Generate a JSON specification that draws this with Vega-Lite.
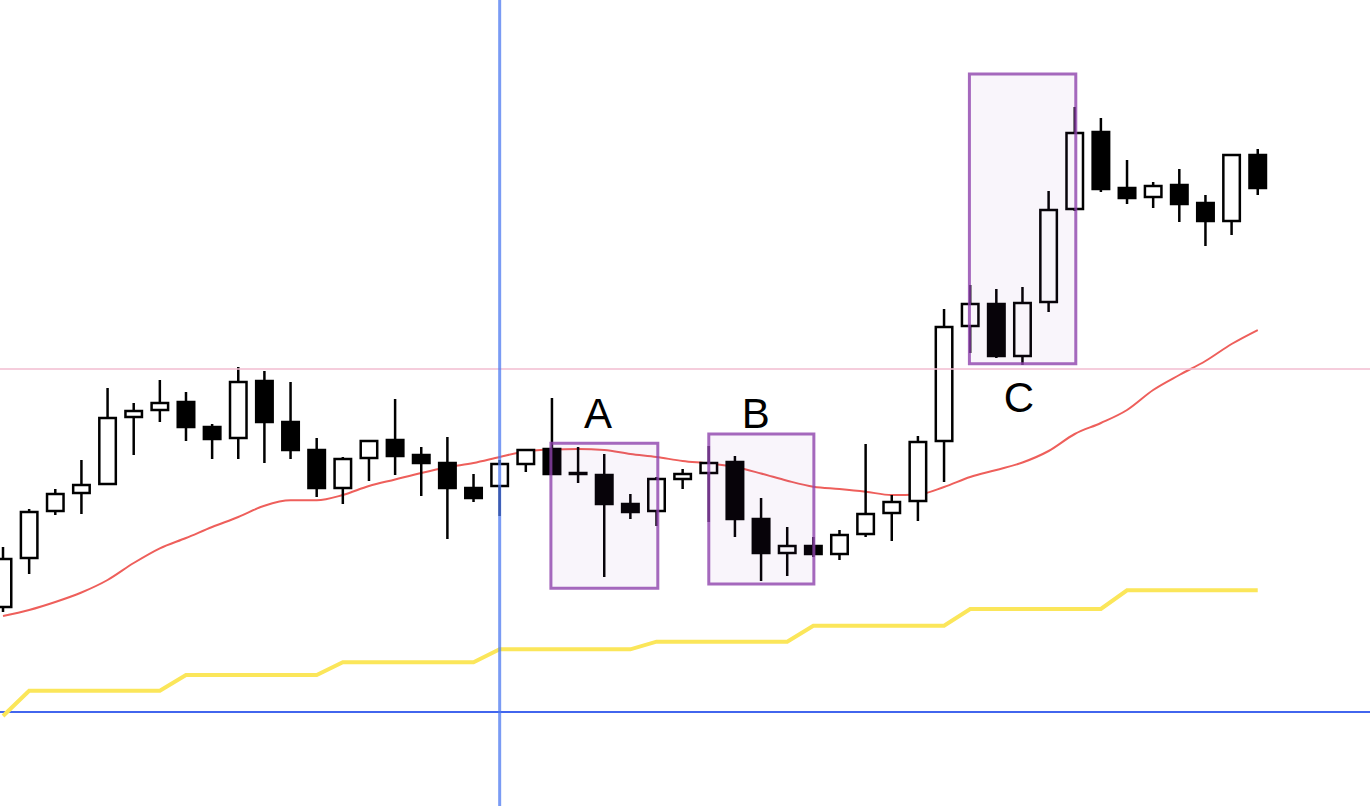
{
  "$schema": "https://vega.github.io/schema/vega-lite/v6.json",
  "width": 1370,
  "height": 806,
  "autosize": {"type": "none"},
  "padding": 0,
  "background": "white",
  "config": {"view": {"stroke": null}},
  "datasets": {
    "candles": [
      {"i": 0, "o": 199, "h": 259, "l": 194, "c": 247, "ma": 190, "ma2": 90},
      {"i": 1, "o": 248, "h": 297, "l": 232, "c": 294, "ma": 196, "ma2": 115.3},
      {"i": 2, "o": 295, "h": 317, "l": 291, "c": 312, "ma": 204, "ma2": 115.3},
      {"i": 3, "o": 313, "h": 346, "l": 292, "c": 321, "ma": 213.5, "ma2": 115.3},
      {"i": 4, "o": 322, "h": 418, "l": 322, "c": 388, "ma": 226, "ma2": 115.3},
      {"i": 5, "o": 389, "h": 403, "l": 351, "c": 395, "ma": 243, "ma2": 115.3},
      {"i": 6, "o": 396, "h": 426, "l": 384, "c": 403, "ma": 257.7, "ma2": 115.3},
      {"i": 7, "o": 404, "h": 414, "l": 365, "c": 379, "ma": 268, "ma2": 131},
      {"i": 8, "o": 379, "h": 382, "l": 347, "c": 367, "ma": 279, "ma2": 131},
      {"i": 9, "o": 368, "h": 439, "l": 347, "c": 424, "ma": 289, "ma2": 131},
      {"i": 10, "o": 425, "h": 435, "l": 343, "c": 384, "ma": 300.3, "ma2": 131},
      {"i": 11, "o": 384, "h": 424, "l": 347, "c": 356, "ma": 305.7, "ma2": 131},
      {"i": 12, "o": 356, "h": 368, "l": 309, "c": 318, "ma": 305.7, "ma2": 131},
      {"i": 13, "o": 318, "h": 349, "l": 302, "c": 347, "ma": 311, "ma2": 143.7},
      {"i": 14, "o": 348, "h": 365, "l": 325, "c": 365, "ma": 320, "ma2": 143.7},
      {"i": 15, "o": 366, "h": 407, "l": 331, "c": 350, "ma": 326.5, "ma2": 143.7},
      {"i": 16, "o": 351, "h": 359, "l": 310, "c": 343, "ma": 333, "ma2": 143.7},
      {"i": 17, "o": 343, "h": 369, "l": 267, "c": 318, "ma": 338.7, "ma2": 143.7},
      {"i": 18, "o": 318, "h": 332, "l": 304, "c": 308, "ma": 343, "ma2": 143.7},
      {"i": 19, "o": 320, "h": 346, "l": 290, "c": 342, "ma": 349, "ma2": 156.7},
      {"i": 20, "o": 342, "h": 356, "l": 334, "c": 356, "ma": 354.5, "ma2": 156.7},
      {"i": 21, "o": 357, "h": 408, "l": 332, "c": 332, "ma": 356.5, "ma2": 156.7},
      {"i": 22, "o": 333, "h": 359, "l": 323, "c": 332, "ma": 357, "ma2": 156.7},
      {"i": 23, "o": 331, "h": 352, "l": 229, "c": 302, "ma": 356, "ma2": 156.7},
      {"i": 24, "o": 302, "h": 312, "l": 287, "c": 294, "ma": 352, "ma2": 156.7},
      {"i": 25, "o": 295, "h": 329, "l": 280, "c": 327, "ma": 349, "ma2": 164.3},
      {"i": 26, "o": 327, "h": 337, "l": 317, "c": 332, "ma": 345, "ma2": 164.3},
      {"i": 27, "o": 333, "h": 360, "l": 284, "c": 343, "ma": 342.5, "ma2": 164.3},
      {"i": 28, "o": 344, "h": 350, "l": 269, "c": 287, "ma": 339, "ma2": 164.3},
      {"i": 29, "o": 287, "h": 308, "l": 225, "c": 253, "ma": 332.5, "ma2": 164.3},
      {"i": 30, "o": 253, "h": 279, "l": 230, "c": 260, "ma": 325.3, "ma2": 164.3},
      {"i": 31, "o": 260, "h": 269, "l": 249, "c": 252, "ma": 319.3, "ma2": 180.3},
      {"i": 32, "o": 252, "h": 276, "l": 246, "c": 271, "ma": 317, "ma2": 180.3},
      {"i": 33, "o": 272, "h": 362, "l": 269, "c": 292, "ma": 314.3, "ma2": 180.3},
      {"i": 34, "o": 293, "h": 311, "l": 265, "c": 304, "ma": 311, "ma2": 180.3},
      {"i": 35, "o": 305, "h": 370, "l": 285, "c": 364, "ma": 311.5, "ma2": 180.3},
      {"i": 36, "o": 365, "h": 497, "l": 324, "c": 479, "ma": 319, "ma2": 180.3},
      {"i": 37, "o": 480, "h": 521, "l": 453, "c": 502, "ma": 329, "ma2": 197},
      {"i": 38, "o": 502, "h": 517, "l": 448, "c": 450, "ma": 336, "ma2": 197},
      {"i": 39, "o": 450, "h": 519, "l": 441, "c": 503, "ma": 343.5, "ma2": 197},
      {"i": 40, "o": 504, "h": 615, "l": 494, "c": 596, "ma": 355, "ma2": 197},
      {"i": 41, "o": 597, "h": 699, "l": 595, "c": 673, "ma": 372, "ma2": 197},
      {"i": 42, "o": 674, "h": 688, "l": 614, "c": 617, "ma": 383, "ma2": 197},
      {"i": 43, "o": 618, "h": 646, "l": 602, "c": 608, "ma": 396, "ma2": 215.7},
      {"i": 44, "o": 609, "h": 624, "l": 598, "c": 620, "ma": 416, "ma2": 215.7},
      {"i": 45, "o": 621, "h": 637, "l": 584, "c": 602, "ma": 431, "ma2": 215.7},
      {"i": 46, "o": 603, "h": 611, "l": 560, "c": 585, "ma": 445, "ma2": 215.7},
      {"i": 47, "o": 585, "h": 652, "l": 571, "c": 651, "ma": 462, "ma2": 215.7},
      {"i": 48, "o": 651, "h": 657, "l": 611, "c": 618, "ma": 476, "ma2": 215.7}
    ],
    "boxes": [
      {"name": "A", "x1": 20.96, "x2": 25.05, "y1": 362.7, "y2": 217.7},
      {"name": "B", "x1": 27.0, "x2": 31.02, "y1": 372, "y2": 222},
      {"name": "C", "x1": 36.97, "x2": 41.04, "y1": 732, "y2": 442.3}
    ],
    "labels": [
      {"t": "A", "i": 22.76, "p": 377.7},
      {"t": "B", "i": 28.8, "p": 378},
      {"t": "C", "i": 38.86, "p": 394.5}
    ]
  },
  "layer": [
    {
      "data": {"values": [{"p": 94}]},
      "mark": {"type": "rule", "color": "#4266ee", "strokeWidth": 2},
      "encoding": {
        "y": {"field": "p", "type": "quantitative", "scale": {"domain": [0, 806], "nice": false, "zero": false, "padding": 0}, "axis": null}
      }
    },
    {
      "data": {"name": "candles"},
      "mark": {"type": "line", "color": "#ee5f5b", "strokeWidth": 2, "interpolate": "monotone"},
      "encoding": {
        "x": {"field": "i", "type": "quantitative", "scale": {"domain": [-0.115, 52.295], "nice": false, "zero": false, "padding": 0}, "axis": null},
        "y": {"field": "ma", "type": "quantitative", "axis": null}
      }
    },
    {
      "data": {"name": "candles"},
      "mark": {"type": "line", "color": "#fbe65a", "strokeWidth": 4},
      "encoding": {
        "x": {"field": "i", "type": "quantitative", "axis": null},
        "y": {"field": "ma2", "type": "quantitative", "axis": null}
      }
    },
    {
      "data": {"name": "candles"},
      "mark": {"type": "rule", "color": "black", "strokeWidth": 2.5},
      "encoding": {
        "x": {"field": "i", "type": "quantitative", "axis": null},
        "y": {"field": "l", "type": "quantitative", "axis": null},
        "y2": {"field": "h"}
      }
    },
    {
      "data": {"name": "candles"},
      "mark": {"type": "bar", "size": 16.5, "stroke": "black", "strokeWidth": 2.5},
      "encoding": {
        "x": {"field": "i", "type": "quantitative", "axis": null},
        "y": {"field": "o", "type": "quantitative", "axis": null},
        "y2": {"field": "c"},
        "fill": {"condition": {"test": "datum.c > datum.o", "value": "white"}, "value": "black"}
      }
    },
    {
      "data": {"values": [{"p": 437}]},
      "mark": {"type": "rule", "color": "#f2bcd0", "strokeWidth": 1.5},
      "encoding": {
        "y": {"field": "p", "type": "quantitative", "axis": null}
      }
    },
    {
      "data": {"values": [{"i": 19}]},
      "mark": {"type": "rule", "color": "#4d79f0", "strokeWidth": 3, "opacity": 0.75},
      "encoding": {
        "x": {"field": "i", "type": "quantitative", "axis": null}
      }
    },
    {
      "data": {"name": "boxes"},
      "mark": {"type": "rect", "fill": "#8e44ad", "fillOpacity": 0.05, "stroke": "#8e44ad", "strokeOpacity": 0.8, "strokeWidth": 3},
      "encoding": {
        "x": {"field": "x1", "type": "quantitative", "axis": null},
        "x2": {"field": "x2"},
        "y": {"field": "y1", "type": "quantitative", "axis": null},
        "y2": {"field": "y2"}
      }
    },
    {
      "data": {"name": "labels"},
      "mark": {"type": "text", "font": "Liberation Sans", "fontSize": 42, "color": "black", "align": "center", "baseline": "alphabetic"},
      "encoding": {
        "x": {"field": "i", "type": "quantitative", "axis": null},
        "y": {"field": "p", "type": "quantitative", "axis": null},
        "text": {"field": "t"}
      }
    }
  ]
}
